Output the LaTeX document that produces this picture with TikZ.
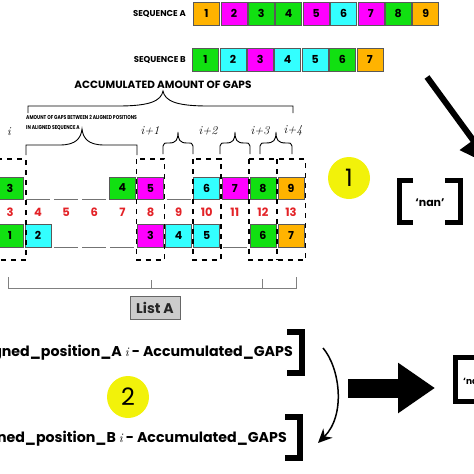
\documentclass[tikz,border=0pt]{standalone}
\usepackage{fontspec}
\usepackage{graphicx}
\newfontfamily\pop{Poppins}
\usetikzlibrary{arrows.meta}
\definecolor{cOr}{HTML}{FFB300}
\definecolor{cMa}{HTML}{FF00FF}
\definecolor{cGr}{HTML}{11E011}
\definecolor{cCy}{HTML}{33FFFF}
\definecolor{cRed}{HTML}{E32227}
\definecolor{cYel}{HTML}{F2F20A}
\begin{document}
\begin{tikzpicture}[x=1pt,y=-1pt,
  sbox/.style={draw=black!65, line width=0.6pt, minimum width=26pt, minimum height=23pt, inner sep=0pt, font=\pop\bfseries\fontsize{11}{11}\selectfont},
  rnum/.style={text=cRed, font=\pop\bfseries\fontsize{11.5}{12}\selectfont, inner sep=0pt},
  gapline/.style={draw=black!55, line width=0.8pt},
  dbox/.style={draw=black, line width=1.6pt, dash pattern=on 5pt off 5pt},
  brc/.style={draw=black, line width=0.9pt},
  lbl/.style={font=\fontsize{12}{12}\selectfont\itshape, inner sep=0pt},
  thickbr/.style={draw=black, line width=5pt},
  head/.style={font=\pop\bfseries\fontsize{8.5}{9}\selectfont, inner sep=0pt},
  tiny/.style={font=\pop\bfseries\fontsize{5.6}{5.6}\selectfont, inner sep=0pt, anchor=west},
  ybubble/.style={circle, fill=cYel, minimum size=42pt, inner sep=0pt, font=\pop\fontsize{24}{24}\selectfont},
  formula/.style={font=\pop\bfseries\fontsize{14.2}{15}\selectfont, inner sep=0pt, anchor=east},
  nantext/.style={font=\pop\bfseries\fontsize{11}{11}\selectfont, inner sep=0pt}
]
\useasboundingbox (0,0) rectangle (474,474);
\clip (0,0) rectangle (474,474);

% sequence labels
\node[head, anchor=east] (seqA) at (186,14) {SEQUENCE A};
\node[head, anchor=east] (seqB) at (186,60) {SEQUENCE B};
\foreach \n/\c [count=\k from 0] in {1/cOr,2/cMa,3/cGr,4/cGr,5/cMa,6/cCy,7/cMa,8/cGr,9/cOr}
  \node[sbox, fill=\c] (A\n) at ({206.5+27.4*\k},13.5) {\n};
\foreach \n/\c [count=\k from 0] in {1/cGr,2/cCy,3/cMa,4/cCy,5/cCy,6/cGr,7/cOr}
  \node[sbox, fill=\c] (B\n) at ({205.5+27.4*\k},59.5) {\n};

% accumulated gaps
\node[font=\pop\bfseries\fontsize{10.5}{11}\selectfont, inner sep=0pt] (acc) at (163,85) {ACCUMULATED AMOUNT OF GAPS};
\draw[brc] (28,113) -- (28,106) -- (118,106) .. controls (150,106) and (161,101) .. (163,91)
  .. controls (165,101) and (176,106) .. (208,106) -- (293,106) -- (293,113);
\node[tiny] (t1) at (26,117) {\scalebox{0.8}[1]{AMOUNT OF GAPS BETWEEN 2 ALIGNED POSITIONS}};
\node[tiny] (t2) at (26,128) {\scalebox{0.8}[1]{IN ALIGNED SEQUENCE A}};
\draw[brc] (26,155) -- (26,145) -- (60,145) .. controls (76,145) and (81,138) .. (82,129)
  .. controls (83,138) and (88,145) .. (104,145) -- (137,145) -- (137,155);
\foreach \a/\b in {163/193, 220/250, 260/292}
  \draw[brc] (\a,154) -- (\a,146) .. controls (\a,143) and ({\a+2},143) .. ({\a+6},143)
    .. controls ({(\a+\b)/2-2},143) and ({(\a+\b)/2},140) .. ({(\a+\b)/2},132)
    .. controls ({(\a+\b)/2},140) and ({(\a+\b)/2+2},143) .. ({\b-6},143)
    .. controls ({\b-2},143) and (\b,143) .. (\b,146) -- (\b,154);

% index labels
\node[lbl] (Li0) at (9,132) {i};
\node[lbl] (Li1) at (150,131) {i+1};
\node[lbl] (Li2) at (208,131) {i+2};
\node[lbl] (Li3) at (260,131) {i+3};
\node[lbl] (Li4) at (293,131) {i+4};

% aligned rows
\foreach \col/\n/\c in {3/3/cGr,7/4/cGr,8/5/cMa,10/6/cCy,11/7/cMa,12/8/cGr,13/9/cOr}
  \node[sbox, minimum height=22pt, fill=\c] (RA\n) at ({10+28.1*(\col-3)},188) {\n};
\foreach \col in {4,5,6,9}
  \draw[gapline] ({10+28.1*(\col-3)-12},199) -- ({10+28.1*(\col-3)+12},199);
\foreach \col/\n/\c in {3/1/cGr,4/2/cCy,8/3/cMa,9/4/cCy,10/5/cCy,12/6/cGr,13/7/cOr}
  \node[sbox, fill=\c] (RB\n) at ({10+28.1*(\col-3)},235.5) {\n};
\foreach \col in {5,6,7,11}
  \draw[gapline] ({10+28.1*(\col-3)-12},247) -- ({10+28.1*(\col-3)+12},247);
\foreach \col in {3,...,13}
  \node[rnum] (N\col) at ({10+28.1*(\col-3)},212) {\col};

% dashed column boxes
\draw[dbox] (-8,159) rectangle (26,260);
\draw[dbox] (136.5,159) rectangle (164.5,260);
\draw[dbox] (192.7,159) rectangle (220.8,260);
\draw[dbox] (248.9,159) rectangle (305.5,260);
\draw[dbox] (277,159) -- (277,260);

% list A bracket
\draw[draw=black!50, line width=0.9pt] (8,277) -- (8,288) -- (296,288) -- (296,277);
\draw[draw=black!50, line width=0.9pt] (151,288) -- (151,280);
\draw[draw=black!50, line width=0.9pt] (262,288) -- (262,279);
\node[draw=black!60, fill=black!20, line width=0.8pt, minimum width=50pt, minimum height=23pt, inner sep=0pt,
  text=black!85, font=\pop\bfseries\fontsize{14}{14}\selectfont] (listA) at (155,307.5) {List A};

% step 1
\node[ybubble] (c1) at (349,178) {1};
\draw[thickbr] (413,180.5) -- (399.5,180.5) -- (399.5,222.5) -- (413,222.5);
\draw[thickbr] (445,180.5) -- (460.5,180.5) -- (460.5,222.5) -- (445,222.5);
\node[nantext] (nan1) at (430,203) {‘nan’};
\coordinate (ar1s) at (427,77);
\coordinate (ar1e) at (492,166);
\draw[line width=6pt, -{Triangle[length=32pt, width=32pt]}] (ar1s) -- (ar1e);

% step 2
\node[formula] (fA) at (293,353) {Aligned\_position\_A~{\normalfont\fontsize{13}{13}\selectfont\itshape i}~- Accumulated\_GAPS};
\draw[thickbr, line width=6pt] (287,332) -- (302,332) -- (302,373) -- (287,373);
\node[formula] (fB) at (287,439) {Aligned\_position\_B~{\normalfont\fontsize{13}{13}\selectfont\itshape i}~- Accumulated\_GAPS};
\draw[thickbr, line width=6pt] (285,417) -- (300,417) -- (300,458) -- (285,458);
\node[ybubble] (c2) at (128,397) {2};
\coordinate (cu1) at (323,348);
\coordinate (cu2) at (318,443);
\draw[line width=1.5pt, -{Stealth[length=14pt,width=13pt]}] (cu1) .. controls (340,368) and (346,415) .. (cu2);
\coordinate (ar2s) at (348,388);
\coordinate (ar2e) at (435,388);
\draw[line width=19pt, -{Triangle[length=37pt, width=48pt]}] (ar2s) -- (ar2e);
\draw[thickbr] (480,357.5) -- (455,357.5) -- (455,401.5) -- (480,401.5);
\node[nantext, font=\pop\bfseries\fontsize{9}{9}\selectfont, anchor=west] (nan2) at (463,381) {‘nan’};
\end{tikzpicture}
\end{document}
